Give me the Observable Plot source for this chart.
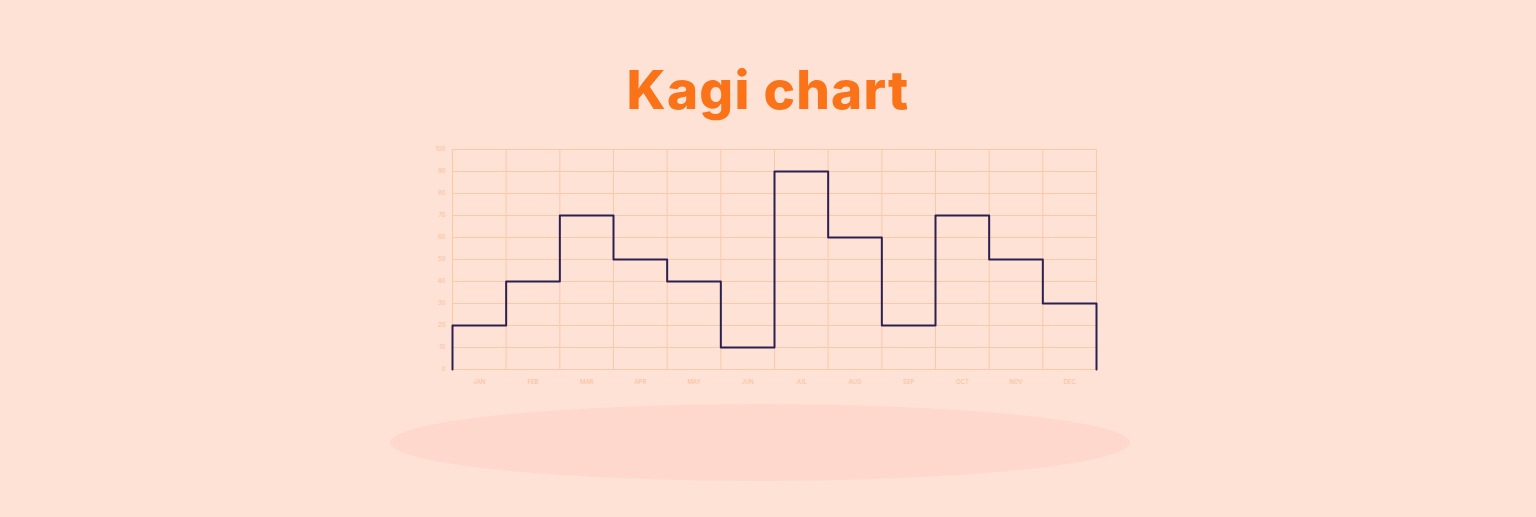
<!DOCTYPE html>
<html>
<head>
<meta charset="utf-8">
<script src="https://cdn.jsdelivr.net/npm/d3@7"></script>
<script src="https://cdn.jsdelivr.net/npm/@observablehq/plot@0.6"></script>
<style>
  html, body { margin: 0; padding: 0; }
  body { width: 1536px; height: 517px; background: #ffe2d6; position: relative; overflow: hidden; font-family: Inter, "Noto Sans", sans-serif; }
  #title { position: absolute; left: 0; width: 1536px; top: 55px; text-align: center; font-family: Inter, "Open Sans", sans-serif; font-weight: 800; font-size: 53px; color: #fb7318; letter-spacing: 1.2px; line-height: 70px; }
  #shadow { position: absolute; left: 390px; top: 404px; width: 740px; height: 77px; border-radius: 50%; background: #ffd8cd; }
  #chart { position: absolute; left: 0; top: 140px; }
</style>
</head>
<body>
<div id="shadow"></div>
<div id="title">Kagi chart</div>
<div id="chart"></div>
<script>
const months = ["JAN","FEB","MAR","APR","MAY","JUN","JUL","AUG","SEP","OCT","NOV","DEC"];
const values = [20, 40, 70, 50, 40, 10, 90, 60, 20, 70, 50, 30];
const yTicks = [0,10,20,30,40,50,60,70,80,90,100];

// path points: start at baseline, one step per month, end at baseline
const pts = [{x: 0, y: 0}];
values.forEach((v, i) => pts.push({x: i, y: v}));
pts.push({x: months.length, y: 0});

const gridX = d3.range(0, months.length + 1);
const labelX = months.map((m, i) => ({x: i + 0.5, m}));

const chart = Plot.plot({
  width: 1536,
  height: 250,
  marginLeft: 452,
  marginRight: 440,
  marginTop: 9,
  marginBottom: 21,
  style: {background: "transparent", fontFamily: "Inter, 'Noto Sans', sans-serif"},
  x: {domain: [0, months.length], axis: null},
  y: {domain: [0, 100], axis: null},
  marks: [
    Plot.ruleY(yTicks, {stroke: "#fcc8a6", strokeWidth: 1}),
    Plot.ruleX(gridX, {stroke: "#fcc8a6", strokeWidth: 1}),
    Plot.text(yTicks, {x: 0, y: d => d, text: d => String(d), textAnchor: "end", dx: -7, fontSize: 6, fill: "#f8bd97"}),
    Plot.text(labelX, {x: "x", y: 0, text: "m", dy: 13, fontSize: 6, fill: "#f8bd97"}),
    Plot.line(pts, {x: "x", y: "y", curve: "step-after", stroke: "#2b2050", strokeWidth: 2})
  ]
});
document.getElementById("chart").appendChild(chart);
</script>
</body>
</html>
